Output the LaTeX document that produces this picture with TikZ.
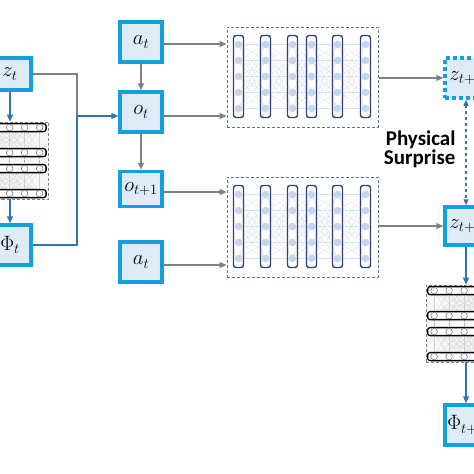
\documentclass[tikz,border=0pt]{standalone}
\usepackage{fontspec}
\setsansfont{Carlito}
\usetikzlibrary{arrows.meta,positioning}
\definecolor{boxcyan}{HTML}{14A0DC}
\definecolor{boxfill}{HTML}{DDEBF7}
\definecolor{arrgray}{HTML}{808080}
\definecolor{arrblue}{HTML}{2E75B6}
\definecolor{netline}{HTML}{5572A8}
\definecolor{barline}{HTML}{2F4172}
\definecolor{barfill}{HTML}{DAE3F3}
\definecolor{unitfill}{HTML}{C5D5EC}
\definecolor{linkgray}{HTML}{DCE2EA}
\tikzset{
  var/.style = {rectangle,draw=boxcyan,fill=boxfill,line width=3.5pt,minimum width=42pt,minimum height=40pt,inner sep=0pt,font=\fontsize{22}{24}\selectfont},
  guess/.style = {var,dash pattern=on 4pt off 3pt},
  netbox/.style = {rectangle,draw=netline,dash pattern=on 3pt off 2pt,line width=1pt,minimum width=151pt,minimum height=100pt,inner sep=0pt},
  encbox/.style = {rectangle,draw=gray,densely dashed,thick,fill=gray!6,minimum width=77pt,minimum height=77pt,inner sep=0pt},
  flow/.style = {draw=arrgray,line width=1.2pt,-{Triangle[length=7pt,width=6pt]}},
  bflow/.style = {draw=arrblue,line width=1.3pt,-{Triangle[length=7pt,width=6pt]}},
  link/.style = {draw=linkgray,line width=0.3pt},
}
\begin{document}
\begin{tikzpicture}[x=1pt,y=-1pt]
\clip (0,0) rectangle (474,474);
\fill[white] (0,0) rectangle (474,474);

% variables
\node[var,minimum height=32pt] (zt) at (10,74) {$z_t$};
\node[var] (phit) at (10,245) {$\Phi_t$};
\node[var] (at) at (141,42) {$a_t$};
\node[var] (ot) at (141,112) {$o_t$};
\node[var,minimum height=35pt] (ot1) at (141,189) {$o_{t+1}$};
\node[var] (at2) at (141,262) {$a_t$};
\node[guess] (zn) at (466,78) {$z_{t+1}$};
\node[var,minimum height=38pt] (zn2) at (466,226) {$z_{t+1}$};
\node[var] (phin) at (466,425) {$\Phi_{t+1}$};

% prediction networks
\node[netbox] (netA) at (302.5,77) {};
\node[netbox] (netB) at (302.5,227) {};
\foreach \net in {netA,netB}{
\begin{scope}[shift={(\net.north west)}]
  \foreach \a/\b in {12/39,39/66,66/85,85/111,111/139}
    \foreach \i in {18,34,50,66,82}
      \foreach \j in {18,34,50,66,82}
        \draw[link] (\a,\i) -- (\b,\j);
  \foreach \x in {12,39,66,85,111,139}{
    \draw[barline,line width=1.4pt,rounded corners=2.5pt] (\x-5,9) rectangle (\x+5,91);
    \foreach \y in {18,34,50,66,82}
      \fill[unitfill] (\x,\y) circle (3.8pt);
  }
\end{scope}
}

% encoders
\node[encbox] (encL) at (10,160.5) {};
\node[encbox] (encR) at (464.5,323.5) {};
\foreach \enc in {encL,encR}{
\begin{scope}[shift={(\enc.north west)}]
  \foreach \i in {-30,-15,0,15,30}
    \foreach \j in {-30,-15,0,15,30}{
      \draw[gray!35,line width=0.3pt] (38.5+\i,6) -- (38.5+\j,31);
      \draw[gray!35,line width=0.3pt] (38.5+\i,47) -- (38.5+\j,72);
    }
  \foreach \i in {-30,-15,0,15,30}
    \draw[gray!60,densely dotted] (38.5+\i,31) -- (38.5+\i,47);
  \foreach \y in {6,31,47,72}{
    \draw[black,fill=white,line width=1.3pt,rounded corners=2.5pt] (2,\y-4) rectangle (75,\y+4);
    \foreach \i in {-30,-15,0,15,30}
      \draw[gray,fill=white,line width=0.6pt] (38.5+\i,\y) circle (3.3pt);
  }
\end{scope}
}

% connectors
\coordinate (join) at (77,116);
\draw[arrgray,line width=1.2pt] (zt.east) -| (join);
\draw[arrblue,line width=1.3pt] (phit.east) -| (join);
\draw[bflow] (join) -- (join -| ot.west);
\draw[bflow] (zt.south) -- (zt.south |- encL.north);
\draw[bflow] (encL.south -| phit) -- (phit.north);
\draw[flow] (at.south) -- (ot.north);
\draw[flow] (ot.south) -- (ot1.north);
\draw[flow] ([yshift=-2pt]at.east) -- ([yshift=-2pt]at.east -| netA.west);
\draw[flow] ([yshift=-4pt]ot.east) -- ([yshift=-4pt]ot.east -| netA.west);
\draw[flow] ([yshift=-3pt]ot1.east) -- ([yshift=-3pt]ot1.east -| netB.west);
\draw[flow] ([yshift=-3pt]at2.east) -- ([yshift=-3pt]at2.east -| netB.west);
\draw[flow] (zn.west -| netA.east) -- (zn.west);
\draw[flow] (zn2.west -| netB.east) -- (zn2.west);
\draw[draw=arrblue,line width=1.3pt,dashed,{Triangle[length=6pt,width=5pt]}-{Triangle[length=6pt,width=5pt]}] (zn.south) -- (zn2.north);
\draw[bflow] (zn2.south) -- (zn2.south |- encR.north);
\draw[bflow] (encR.south -| phin) -- (phin.north);

\node[anchor=east,align=right,font=\sffamily\bfseries\fontsize{21}{19}\selectfont] (surprise) at (459,149) {Physical\\Surprise};
\end{tikzpicture}
\end{document}
